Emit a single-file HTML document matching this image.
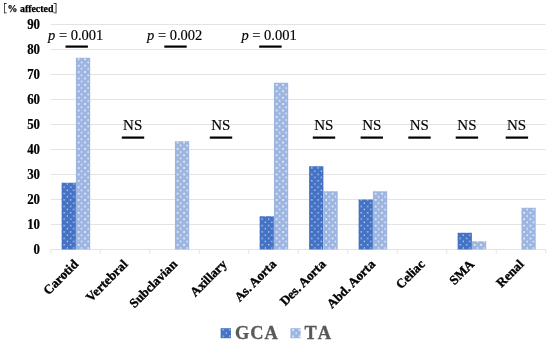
<!DOCTYPE html>
<html><head><meta charset="utf-8"><title>chart</title>
<style>
html,body{margin:0;padding:0;background:#fff;}
body{width:550px;height:344px;overflow:hidden;}
svg{display:block;font-family:"Liberation Serif","Noto Serif CJK SC",serif;}
.yl{font-size:14px;font-weight:bold;fill:#000;stroke:#000;stroke-width:0.2px;text-anchor:end;}
.xl{font-size:13px;font-weight:bold;fill:#000;stroke:#000;stroke-width:0.35px;text-anchor:end;}
.sg{font-size:14.5px;fill:#000;stroke:#000;stroke-width:0.15px;text-anchor:middle;}
.ns{font-size:15px;fill:#000;stroke:#000;stroke-width:0.15px;text-anchor:middle;}
.lg{font-size:18.4px;letter-spacing:1px;font-kerning:none;font-weight:bold;fill:#595959;stroke:#595959;stroke-width:0.3px;}
.un{font-size:9.9px;font-weight:bold;fill:#000;stroke:#000;stroke-width:0.25px;}
</style></head><body>
<svg width="550" height="344" viewBox="0 0 550 344">
<defs>
<pattern id="pg" width="6.4" height="6.4" patternUnits="userSpaceOnUse" x="0" y="0">
<rect width="6.4" height="6.4" fill="#4472c4"/>
<rect x="2.0" y="1.0" width="1.3" height="1.3" fill="#cfdaf2"/>
<rect x="5.2" y="4.2" width="1.3" height="1.3" fill="#cfdaf2"/>
</pattern>
<pattern id="pt" width="6.4" height="6.4" patternUnits="userSpaceOnUse" x="0" y="0">
<rect width="6.4" height="6.4" fill="#9db5e1"/>
<rect x="2.0" y="1.0" width="1.5" height="1.5" fill="#ffffff"/>
<rect x="5.2" y="4.2" width="1.5" height="1.5" fill="#ffffff"/>
</pattern>
</defs>
<rect width="550" height="344" fill="#fff"/>

<line x1="50.75" y1="249.5" x2="545.5" y2="249.5" stroke="#e3e3e3" stroke-width="1"/>
<text class="yl" transform="translate(40,253.5) scale(0.92,1)">0</text>
<line x1="50.75" y1="224.5" x2="545.5" y2="224.5" stroke="#e3e3e3" stroke-width="1"/>
<text class="yl" transform="translate(40,228.5) scale(0.92,1)">10</text>
<line x1="50.75" y1="199.5" x2="545.5" y2="199.5" stroke="#e3e3e3" stroke-width="1"/>
<text class="yl" transform="translate(40,203.5) scale(0.92,1)">20</text>
<line x1="50.75" y1="174.5" x2="545.5" y2="174.5" stroke="#e3e3e3" stroke-width="1"/>
<text class="yl" transform="translate(40,178.5) scale(0.92,1)">30</text>
<line x1="50.75" y1="149.5" x2="545.5" y2="149.5" stroke="#e3e3e3" stroke-width="1"/>
<text class="yl" transform="translate(40,153.5) scale(0.92,1)">40</text>
<line x1="50.75" y1="124.5" x2="545.5" y2="124.5" stroke="#e3e3e3" stroke-width="1"/>
<text class="yl" transform="translate(40,128.5) scale(0.92,1)">50</text>
<line x1="50.75" y1="99.5" x2="545.5" y2="99.5" stroke="#e3e3e3" stroke-width="1"/>
<text class="yl" transform="translate(40,103.5) scale(0.92,1)">60</text>
<line x1="50.75" y1="74.5" x2="545.5" y2="74.5" stroke="#e3e3e3" stroke-width="1"/>
<text class="yl" transform="translate(40,78.5) scale(0.92,1)">70</text>
<line x1="50.75" y1="49.5" x2="545.5" y2="49.5" stroke="#e3e3e3" stroke-width="1"/>
<text class="yl" transform="translate(40,53.5) scale(0.92,1)">80</text>
<line x1="50.75" y1="24.5" x2="545.5" y2="24.5" stroke="#e3e3e3" stroke-width="1"/>
<text class="yl" transform="translate(40,28.5) scale(0.92,1)">90</text>
<line x1="50.75" y1="249.5" x2="50.75" y2="253.5" stroke="#e3e3e3" stroke-width="1"/>
<line x1="100.25" y1="249.5" x2="100.25" y2="253.5" stroke="#e3e3e3" stroke-width="1"/>
<line x1="149.75" y1="249.5" x2="149.75" y2="253.5" stroke="#e3e3e3" stroke-width="1"/>
<line x1="199.25" y1="249.5" x2="199.25" y2="253.5" stroke="#e3e3e3" stroke-width="1"/>
<line x1="248.75" y1="249.5" x2="248.75" y2="253.5" stroke="#e3e3e3" stroke-width="1"/>
<line x1="298.25" y1="249.5" x2="298.25" y2="253.5" stroke="#e3e3e3" stroke-width="1"/>
<line x1="347.75" y1="249.5" x2="347.75" y2="253.5" stroke="#e3e3e3" stroke-width="1"/>
<line x1="397.25" y1="249.5" x2="397.25" y2="253.5" stroke="#e3e3e3" stroke-width="1"/>
<line x1="446.75" y1="249.5" x2="446.75" y2="253.5" stroke="#e3e3e3" stroke-width="1"/>
<line x1="496.25" y1="249.5" x2="496.25" y2="253.5" stroke="#e3e3e3" stroke-width="1"/>
<line x1="545.75" y1="249.5" x2="545.75" y2="253.5" stroke="#e3e3e3" stroke-width="1"/>
<text class="un" x="-3" y="12.4">［</text>
<text class="un" x="7.6" y="12.4">% affected</text>
<text class="un" x="53.6" y="12.4">］</text>
<g transform="translate(61.60,249.5)"><rect x="0" y="-66.75" width="14.3" height="66.75" fill="url(#pg)"/></g>
<g transform="translate(75.90,249.5)"><rect x="0" y="-191.75" width="14.3" height="191.75" fill="url(#pt)"/></g>
<text class="sg" x="75.70" y="40"><tspan font-style="italic">p</tspan> = 0.001</text>
<rect x="65.50" y="45.5" width="22.4" height="2.2" fill="#000"/>
<text class="xl" transform="translate(79.00,265) rotate(-45)">Carotid</text>
<text class="ns" x="132.70" y="130.2">NS</text>
<rect x="121.80" y="136.5" width="22.4" height="2.2" fill="#000"/>
<text class="xl" transform="translate(128.50,265) rotate(-45)">Vertebral</text>
<g transform="translate(174.90,249.5)"><rect x="0" y="-108.25" width="14.3" height="108.25" fill="url(#pt)"/></g>
<text class="sg" x="174.70" y="40"><tspan font-style="italic">p</tspan> = 0.002</text>
<rect x="164.30" y="45.5" width="22.4" height="2.2" fill="#000"/>
<text class="xl" transform="translate(178.00,265) rotate(-45)">Subclavian</text>
<text class="ns" x="220.80" y="130.2">NS</text>
<rect x="209.80" y="136.5" width="22.4" height="2.2" fill="#000"/>
<text class="xl" transform="translate(227.50,265) rotate(-45)">Axillary</text>
<g transform="translate(259.60,249.5)"><rect x="0" y="-33.25" width="14.3" height="33.25" fill="url(#pg)"/></g>
<g transform="translate(273.90,249.5)"><rect x="0" y="-166.75" width="14.3" height="166.75" fill="url(#pt)"/></g>
<text class="sg" x="269.10" y="40"><tspan font-style="italic">p</tspan> = 0.001</text>
<rect x="259.20" y="45.5" width="22.4" height="2.2" fill="#000"/>
<text class="xl" transform="translate(277.00,265) rotate(-45)">As. Aorta</text>
<g transform="translate(309.10,249.5)"><rect x="0" y="-83.25" width="14.3" height="83.25" fill="url(#pg)"/></g>
<g transform="translate(323.40,249.5)"><rect x="0" y="-58.25" width="14.3" height="58.25" fill="url(#pt)"/></g>
<text class="ns" x="323.80" y="130.2">NS</text>
<rect x="312.80" y="136.5" width="22.4" height="2.2" fill="#000"/>
<text class="xl" transform="translate(326.50,265) rotate(-45)">Des. Aorta</text>
<g transform="translate(358.60,249.5)"><rect x="0" y="-50.00" width="14.3" height="50.00" fill="url(#pg)"/></g>
<g transform="translate(372.90,249.5)"><rect x="0" y="-58.25" width="14.3" height="58.25" fill="url(#pt)"/></g>
<text class="ns" x="371.80" y="130.2">NS</text>
<rect x="360.60" y="136.5" width="22.4" height="2.2" fill="#000"/>
<text class="xl" transform="translate(376.00,265) rotate(-45)">Abd. Aorta</text>
<text class="ns" x="419.30" y="130.2">NS</text>
<rect x="408.30" y="136.5" width="22.4" height="2.2" fill="#000"/>
<text class="xl" transform="translate(425.50,265) rotate(-45)">Celiac</text>
<g transform="translate(457.60,249.5)"><rect x="0" y="-16.75" width="14.3" height="16.75" fill="url(#pg)"/></g>
<g transform="translate(471.90,249.5)"><rect x="0" y="-8.25" width="14.3" height="8.25" fill="url(#pt)"/></g>
<text class="ns" x="466.90" y="130.2">NS</text>
<rect x="455.70" y="136.5" width="22.4" height="2.2" fill="#000"/>
<text class="xl" transform="translate(475.00,265) rotate(-45)">SMA</text>
<g transform="translate(521.40,249.5)"><rect x="0" y="-41.75" width="14.3" height="41.75" fill="url(#pt)"/></g>
<text class="ns" x="516.60" y="130.2">NS</text>
<rect x="505.70" y="136.5" width="22.4" height="2.2" fill="#000"/>
<text class="xl" transform="translate(524.50,265) rotate(-45)">Renal</text>
<g transform="translate(220.6,328.2)"><rect width="10.4" height="10" fill="url(#pg)"/></g>
<text class="lg" x="235" y="338.6">GCA</text>
<g transform="translate(290.4,328.2)"><rect width="10.2" height="10" fill="url(#pt)"/></g>
<text class="lg" x="304.4" y="338.6">TA</text>
</svg></body></html>
